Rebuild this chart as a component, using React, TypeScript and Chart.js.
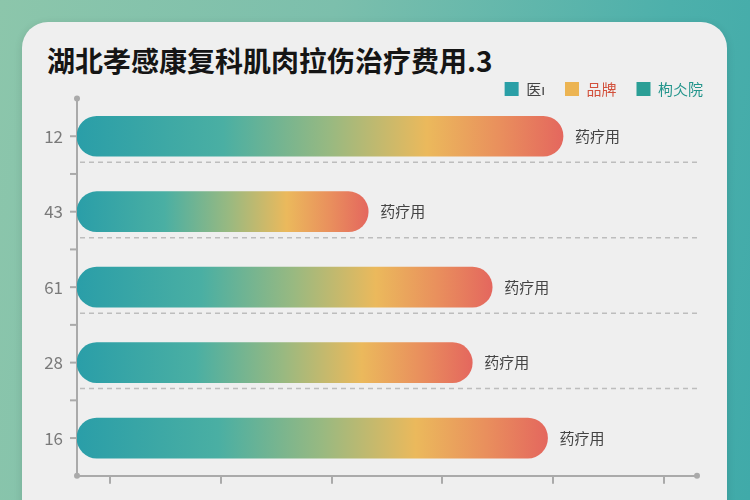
import { useEffect, useRef } from "react"
import { Chart, registerables } from "chart.js"

Chart.register(...registerables)

const chartTitle = "湖北孝感康复科肌肉拉伤治疗费用.3"
const categories = ["12", "43", "61", "28", "16"]
const costs = [439, 263, 375, 357, 425]
const barLabels = ["药疗用", "药疗用", "药疗用", "药疗用", "药疗用"]
const xTicks = [30, 130, 230, 330, 430, 530]
const xMax = 560
const legendNames = ["医ı", "品牌", "枸仌院"]
const legendBoxColors = ["#2a9fa6", "#ecb452", "#2b9f96"]
const legendTextColors = ["#444444", "#d2513c", "#23958c"]

const FONT = "'Noto Sans CJK SC', 'Noto Sans', sans-serif"
const AXIS_COLOR = "#aaaaaa"

function barGradient(chart: any, index: number) {
  const { ctx, chartArea, scales } = chart
  if (!chartArea || !scales.x) return "#2a9ea8"
  const x0 = scales.x.getPixelForValue(0)
  const x1 = scales.x.getPixelForValue(costs[index])
  const g = ctx.createLinearGradient(x0, 0, x1, 0)
  g.addColorStop(0, "#2a9ea8")
  g.addColorStop(0.3, "#4aafa3")
  g.addColorStop(0.52, "#98b981")
  g.addColorStop(0.72, "#ebb95c")
  g.addColorStop(0.87, "#e98f5d")
  g.addColorStop(1, "#e4675e")
  return g
}

// dashed separators, axis ticks and dots, labels after bars
const decorPlugin = {
  id: "decor",
  afterLayout(chart: any) {
    // push legend to the card's right edge
    chart.legend.left += 26
    chart.legend.right += 26
  },
  beforeDatasetsDraw(chart: any) {
    const { ctx, chartArea, scales } = chart
    const meta = chart.getDatasetMeta(0)
    ctx.save()
    ctx.strokeStyle = "#bdbdbd"
    ctx.lineWidth = 1.5
    ctx.setLineDash([5, 4])
    for (let i = 0; i < meta.data.length - 1; i++) {
      const bar = meta.data[i]
      const y = bar.y + bar.height / 2 + 6
      ctx.beginPath()
      ctx.moveTo(chartArea.left + 3, y)
      ctx.lineTo(chartArea.right, y)
      ctx.stroke()
    }
    ctx.setLineDash([])
    ctx.strokeStyle = AXIS_COLOR
    ctx.lineWidth = 2
    const left = chartArea.left
    for (let i = 0; i < categories.length; i++) {
      const y = scales.y.getPixelForValue(i)
      ctx.beginPath()
      ctx.moveTo(left - 7, y)
      ctx.lineTo(left, y)
      ctx.stroke()
      if (i < categories.length - 1) {
        const yb = (y + scales.y.getPixelForValue(i + 1)) / 2
        ctx.beginPath()
        ctx.moveTo(left - 7, yb)
        ctx.lineTo(left, yb)
        ctx.stroke()
      }
    }
    ctx.fillStyle = AXIS_COLOR
    const dots = [
      [left, chartArea.top],
      [left, chartArea.bottom],
      [chartArea.right, chartArea.bottom],
    ]
    dots.forEach(([x, y]) => {
      ctx.beginPath()
      ctx.arc(x, y, 3, 0, Math.PI * 2)
      ctx.fill()
    })
    ctx.restore()
  },
  afterDatasetsDraw(chart: any) {
    const { ctx } = chart
    const meta = chart.getDatasetMeta(0)
    ctx.save()
    ctx.font = `15px ${FONT}`
    ctx.fillStyle = "#444444"
    ctx.textAlign = "left"
    ctx.textBaseline = "middle"
    meta.data.forEach((bar: any, i: number) => {
      ctx.fillText(barLabels[i], bar.x + 12, bar.y)
    })
    ctx.restore()
  },
}

export default function App() {
  const chartRef = useRef<HTMLCanvasElement>(null)
  const chartInstance = useRef<Chart | null>(null)

  useEffect(() => {
    if (!chartRef.current) return
    if (chartInstance.current) {
      chartInstance.current.destroy()
    }
    const ctx = chartRef.current.getContext("2d")
    if (!ctx) return

    chartInstance.current = new Chart(ctx, {
      type: "bar",
      data: {
        labels: categories,
        datasets: [
          {
            label: "费用",
            data: costs,
            backgroundColor: (c: any) =>
              c.type === "data" ? barGradient(c.chart, c.dataIndex) : "#2a9ea8",
            barThickness: 40,
            borderRadius: 20,
            borderSkipped: false,
          },
        ],
      },
      options: {
        indexAxis: "y",
        responsive: false,
        animation: false,
        events: [],
        layout: {
          padding: { top: 61.5, left: 36, right: 53, bottom: 2 },
        },
        scales: {
          x: {
            min: 0,
            max: xMax,
            afterBuildTicks: (axis: any) => {
              axis.ticks = xTicks.map((v) => ({ value: v }))
            },
            grid: {
              drawOnChartArea: false,
              drawTicks: true,
              tickLength: 8,
              color: AXIS_COLOR,
              lineWidth: 2,
            },
            border: { display: true, color: AXIS_COLOR, width: 2 },
            ticks: { display: false },
          },
          y: {
            afterFit: (axis: any) => {
              axis.width = 41
            },
            grid: { display: false, drawTicks: false },
            border: { display: true, color: AXIS_COLOR, width: 2 },
            ticks: {
              color: "#7a7a7a",
              padding: 14,
              font: { family: FONT, size: 17 },
            },
          },
        },
        plugins: {
          legend: {
            position: "top",
            align: "end",
            maxHeight: 37,
            labels: {
              padding: 20,
              boxWidth: 14,
              boxHeight: 14,
              useBorderRadius: true,
              borderRadius: 2,
              font: { family: FONT, size: 15 },
              generateLabels: () =>
                legendNames.map((name, i) => ({
                  text: name,
                  fillStyle: legendBoxColors[i],
                  strokeStyle: legendBoxColors[i],
                  lineWidth: 0,
                  fontColor: legendTextColors[i],
                  hidden: false,
                  datasetIndex: 0,
                })),
            },
          },
          tooltip: { enabled: false },
        },
      },
      plugins: [decorPlugin],
    } as any)

    return () => {
      if (chartInstance.current) {
        chartInstance.current.destroy()
        chartInstance.current = null
      }
    }
  }, [])

  return (
    <div
      style={{
        position: "absolute",
        left: 0,
        top: 0,
        width: 750,
        height: 500,
        overflow: "hidden",
        background: "linear-gradient(100deg, #8cc6ab 0%, #7cbfac 40%, #4db0ab 80%, #40aaa9 100%)",
      }}
    >
      <div
        style={{
          position: "absolute",
          left: 22,
          top: 22,
          width: 705,
          height: 520,
          borderRadius: 26,
          background: "#efefef",
          boxShadow: "0 2px 8px rgba(0,0,0,0.12)",
        }}
      />
      <div
        style={{
          position: "absolute",
          left: 47,
          top: 44,
          fontFamily: FONT,
          fontSize: 28,
          fontWeight: 700,
          lineHeight: "32px",
          color: "#151515",
          whiteSpace: "nowrap",
        }}
      >
        {chartTitle}
      </div>
      <canvas
        ref={chartRef}
        width={750}
        height={500}
        style={{ position: "absolute", left: 0, top: 0 }}
      />
    </div>
  )
}
